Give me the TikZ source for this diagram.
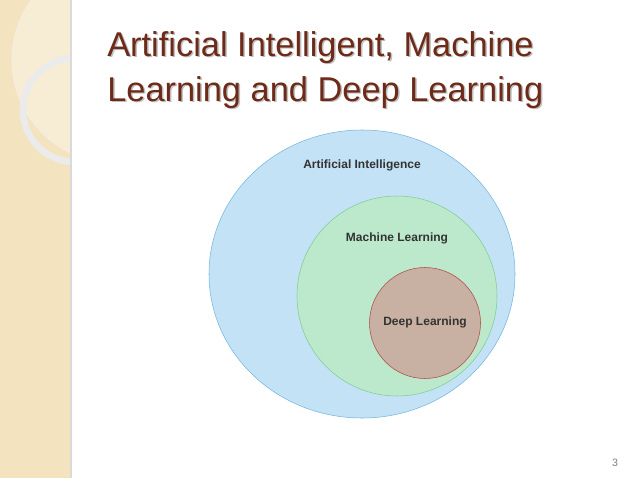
\documentclass[tikz,border=0pt]{standalone}
\usepackage{fontspec}
\setmainfont{Liberation Sans}
\definecolor{strip}{HTML}{F3E3BE}
\definecolor{titlec}{HTML}{6E2A18}
\definecolor{aifill}{HTML}{C3E2F6}
\definecolor{aidraw}{HTML}{74B6E0}
\definecolor{mlfill}{HTML}{BCE8CC}
\definecolor{mldraw}{HTML}{80CC95}
\definecolor{dlfill}{HTML}{C8B0A2}
\definecolor{dldraw}{HTML}{B04A48}
\definecolor{lab}{HTML}{333333}
\tikzset{lbl/.style={font=\bfseries\fontsize{9}{11}\selectfont,text=lab},
 ttl/.style={font=\fontsize{25.8}{30}\selectfont,text=titlec,anchor=base west,inner sep=0pt}}
\begin{document}
\begin{tikzpicture}[x=0.75pt,y=-0.75pt]
\useasboundingbox (0,0) rectangle (638,478);
\fill[white] (0,0) rectangle (638,478);
\fill[strip] (0,0) rectangle (70,478);
\fill[black!15] (70,0) rectangle (72,478);
\begin{scope}
\clip (0,0) rectangle (70,478);
\fill[white,opacity=0.35] (115,60) circle (103);
\draw[white!85!brown,line width=0.8pt] (115,60) circle (103);
\draw[black!8,line width=5pt] (75,110) circle (52);
\end{scope}
\node[ttl,text=black!25] (t1s) at (108.5,57.5) {Artificial Intelligent, Machine};
\node[ttl,text=black!25] (t2s) at (108.5,102.5) {Learning and Deep Learning};
\node[ttl] (t1) at (107,56) {Artificial Intelligent, Machine};
\node[ttl] (t2) at (107,101) {Learning and Deep Learning};
\draw[fill=aifill,draw=aidraw] (362,274) ellipse (153 and 144);
\draw[fill=mlfill,draw=mldraw] (397,296) circle (100);
\draw[fill=dlfill,draw=dldraw] (425,323) circle (55.5);
\node[lbl] (ai) at (362,165) {Artificial Intelligence};
\node[lbl] (ml) at (397,238) {Machine Learning};
\node[lbl] (dl) at (425,322) {Deep Learning};
\node[font=\fontsize{8}{10}\selectfont,text=black!50] (pg) at (615,463) {3};
\end{tikzpicture}
\end{document}
